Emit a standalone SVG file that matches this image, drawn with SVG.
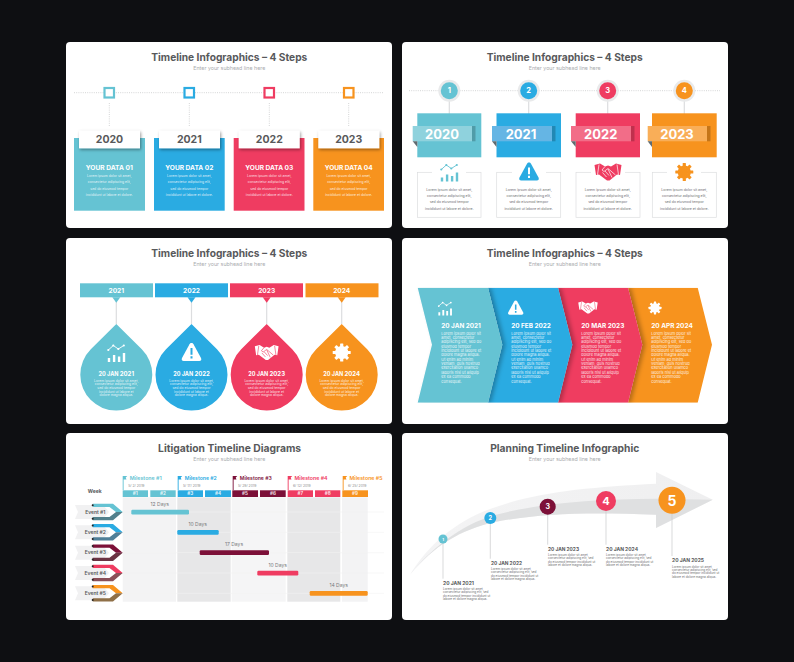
<svg xmlns="http://www.w3.org/2000/svg" width="794" height="662" viewBox="0 0 794 662">
<style>
text{font-family:"Inter","Open Sans","Liberation Sans",sans-serif}
.panel{fill:#fff}
.title{font-size:10.4px;font-weight:700;fill:#58595b;text-anchor:middle}
.sub{font-size:5px;fill:#a9abae;text-anchor:middle}
.c{text-anchor:middle}
.lw{font-size:3.4px;fill:#fff;fill-opacity:.85;text-anchor:middle}
.lg{font-size:3.5px;fill:#6d6e71;text-anchor:middle}
.lc{font-size:3.9px;fill:#fff;fill-opacity:.88}
.ln{font-size:3.1px;fill:#6d6e71}
.yr{font-size:10.5px;font-weight:700;fill:#58595b;text-anchor:middle}
.yw{font-size:13px;font-weight:700;fill:#fff;text-anchor:middle}
.hd{font-size:6.6px;font-weight:700;fill:#fff;text-anchor:middle}
.dt{font-size:6px;font-weight:700;fill:#fff;text-anchor:middle}
.dc{font-size:6px;font-weight:700;fill:#fff}
.dg{font-size:5.2px;font-weight:700;fill:#58595b}
.data{font-size:6.3px;font-weight:700;fill:#fff;text-anchor:middle}
.ms{font-size:5px;font-weight:600}
.md{font-size:3.4px;fill:#8a8c8e}
.wk{font-size:4.6px;font-weight:700;fill:#fff;fill-opacity:.85;text-anchor:middle}
.days{font-size:5px;fill:#77787b;text-anchor:middle}
.ev{font-size:5px;font-weight:600;fill:#58595b;text-anchor:middle}
.dot{stroke:#d4d5d6;stroke-width:1;stroke-dasharray:1 1.2;fill:none}
.stem{stroke:#dcdddf;stroke-width:1.2;fill:none}
.stem6{stroke:#c9cacc;stroke-width:.7;fill:none}
.rule{stroke:#f1f1f2;stroke-width:.6}
.box{fill:none;stroke:#dcdddf;stroke-width:.7}
.t{fill:#65c3d3;color:#65c3d3}.b{fill:#2aabe2;color:#2aabe2}.p{fill:#ef3c61;color:#ef3c61}.o{fill:#f7931e;color:#f7931e}.m{fill:#7c1038;color:#7c1038}
.white{color:#fff}
</style>
<defs>
<filter id="sh" x="-30%" y="-40%" width="160%" height="190%"><feDropShadow dx="1" dy="1.5" stdDeviation="1.6" flood-color="#000" flood-opacity=".4"/></filter>
<filter id="chev" x="-20%" y="-5%" width="140%" height="110%"><feDropShadow dx="3" dy="0" stdDeviation="2.2" flood-color="#000" flood-opacity=".28"/></filter>
<clipPath id="chevClip"><rect x="410" y="287.700" width="310" height="115"/></clipPath>
<linearGradient id="arTop" x1="0" y1="0" x2="1" y2="0"><stop offset="0" stop-color="#f4f4f5"/><stop offset="1" stop-color="#efeff0"/></linearGradient>
<g id="chart">
<path fill="currentColor" stroke="none" d="M-8.500 5.500h2.400v4h-2.400zM-3.400 2.500h2.400v7h-2.400zM1.600 4h2.400v5.500h-2.400zM6.500 .5h2.400v9h-2.400z"/>
<path fill="none" stroke="currentColor" stroke-width=".9" d="M-8 -2.500L-3 -7L2 -3.500L7.500 -7"/>
<circle fill="currentColor" stroke="none" cx="-8" cy="-2.500" r="1.100"/><circle fill="currentColor" stroke="none" cx="-3" cy="-7" r="1.100"/><circle fill="currentColor" stroke="none" cx="2" cy="-3.500" r="1.100"/><circle fill="currentColor" stroke="none" cx="7.500" cy="-7" r="1.100"/>
</g>
<g id="warn">
<path fill="currentColor" stroke-width="0" d="M0 -9.500C1 -9.500 1.500 -9 2 -8.200L9.500 5.500C10.300 7.200 9.500 8.500 7.800 8.500H-7.800C-9.500 8.500 -10.300 7.200 -9.500 5.500L-2 -8.200C-1.500 -9 -1 -9.500 0 -9.500Z"/>
<path fill="none" stroke-width="2" d="M0 -4.500V2.200M0 3.800V6"/>
</g>
<g id="shake">
<path fill="currentColor" stroke-width="0" d="M-13.500 -7L-8 -8.500L-3 -5.500L0 -6.500L3 -5.500L8 -8.500L13.500 -7L12 3L9 2.500L1.500 8.500L-1 8.500L-9 2.500L-12 3Z"/>
<path fill="none" stroke-width=".7" d="M-9 -7.500L-10.500 2.800M9 -7.500L10.500 2.800M-3 -5.500L-6 -2L-4 -.5L0 -3.500L7.500 3M-5.500 .5L-1.500 5M-3 -1L1 3.500M0 -3L4 5.500"/>
</g>
<g id="gear">
<g fill="currentColor" stroke="none">
<rect x="-1.600" y="-9" width="3.200" height="18" rx=".5"/>
<rect x="-1.600" y="-9" width="3.200" height="18" rx=".5" transform="rotate(45)"/>
<rect x="-1.600" y="-9" width="3.200" height="18" rx=".5" transform="rotate(90)"/>
<rect x="-1.600" y="-9" width="3.200" height="18" rx=".5" transform="rotate(135)"/>
</g>
<circle r="5" fill="none" stroke="currentColor" stroke-width="3.200"/>
</g>
<g id="flag"><path d="M0 0h4.600l-1.600 1.600 .8 1.800H.9V14H0Z"/></g>
</defs>
<rect width="794" height="662" fill="#0e0f12"/>

<g id="panel-1">
<rect class="panel" x="66" y="42" width="326" height="186" rx="4"/>
<text class="title" x="229.300" y="61" textLength="156" lengthAdjust="spacingAndGlyphs">Timeline Infographics – 4 Steps</text>
<text class="sub" x="229.300" y="69.500" textLength="72" lengthAdjust="spacingAndGlyphs">Enter your subhead line here</text>
<path class="dot" d="M74 92.700H384M109.300 103V127M189.300 103V127M269.300 103V127M348.700 103V127"/>
<g id="p1-2020">
<rect x="104.500" y="88" width="9.500" height="9.500" fill="#fff" stroke="#65c3d3" stroke-width="2.200"/>
<rect class="t" x="74" y="138" width="71" height="72.700"/>
<rect x="79" y="130.700" width="61" height="17.600" fill="#fff" filter="url(#sh)"/>
<text class="yr" x="109.500" y="143">2020</text>
<text class="data" x="109.300" y="170" textLength="47" lengthAdjust="spacingAndGlyphs">YOUR DATA 01</text>
<text class="lw" x="109.300" y="177">Lorem ipsum dolor sit amet,</text><text class="lw" x="109.300" y="183.300">consectetur adipiscing elit,</text><text class="lw" x="109.300" y="189.500">sed do eiusmod tempor</text><text class="lw" x="109.300" y="196">incididunt ut labore et dolore.</text>
</g>
<g id="p1-2021">
<rect x="184.500" y="88" width="9.500" height="9.500" fill="#fff" stroke="#2aabe2" stroke-width="2.200"/>
<rect class="b" x="154" y="138" width="70.700" height="72.700"/>
<rect x="159" y="130.700" width="61" height="17.600" fill="#fff" filter="url(#sh)"/>
<text class="yr" x="189.300" y="143">2021</text>
<text class="data" x="189.300" y="170" textLength="48" lengthAdjust="spacingAndGlyphs">YOUR DATA 02</text>
<text class="lw" x="189.300" y="177">Lorem ipsum dolor sit amet,</text><text class="lw" x="189.300" y="183.300">consectetur adipiscing elit,</text><text class="lw" x="189.300" y="189.500">sed do eiusmod tempor</text><text class="lw" x="189.300" y="196">incididunt ut labore et dolore.</text>
</g>
<g id="p1-2022">
<rect x="264.500" y="88" width="9.500" height="9.500" fill="#fff" stroke="#ef3c61" stroke-width="2.200"/>
<rect class="p" x="233.700" y="138" width="70.800" height="72.700"/>
<rect x="238.700" y="130.700" width="61" height="17.600" fill="#fff" filter="url(#sh)"/>
<text class="yr" x="269.300" y="143">2022</text>
<text class="data" x="269.300" y="170" textLength="48" lengthAdjust="spacingAndGlyphs">YOUR DATA 03</text>
<text class="lw" x="269.300" y="177">Lorem ipsum dolor sit amet,</text><text class="lw" x="269.300" y="183.300">consectetur adipiscing elit,</text><text class="lw" x="269.300" y="189.500">sed do eiusmod tempor</text><text class="lw" x="269.300" y="196">incididunt ut labore et dolore.</text>
</g>
<g id="p1-2023">
<rect x="344" y="88" width="9.500" height="9.500" fill="#fff" stroke="#f7931e" stroke-width="2.200"/>
<rect class="o" x="313.300" y="138" width="70.700" height="72.700"/>
<rect x="318.300" y="130.700" width="61" height="17.600" fill="#fff" filter="url(#sh)"/>
<text class="yr" x="348.700" y="143">2023</text>
<text class="data" x="348.700" y="170" textLength="48" lengthAdjust="spacingAndGlyphs">YOUR DATA 04</text>
<text class="lw" x="348.700" y="177">Lorem ipsum dolor sit amet,</text><text class="lw" x="348.700" y="183.300">consectetur adipiscing elit,</text><text class="lw" x="348.700" y="189.500">sed do eiusmod tempor</text><text class="lw" x="348.700" y="196">incididunt ut labore et dolore.</text>
</g>
</g>

<g id="panel-2">
<rect class="panel" x="402" y="42" width="326" height="186" rx="4"/>
<text class="title" x="564.700" y="61" textLength="156" lengthAdjust="spacingAndGlyphs">Timeline Infographics – 4 Steps</text>
<text class="sub" x="564.700" y="69.500" textLength="72" lengthAdjust="spacingAndGlyphs">Enter your subhead line here</text>
<path class="dot" d="M409 90.700H720"/>
<path class="stem" d="M449.300 100V114M528.700 100V114M607.700 100V114M684.300 100V114"/>
<g id="p2-2020">
<circle cx="449.300" cy="90.700" r="11" fill="#e9eaeb"/><circle class="t" cx="449.300" cy="90.700" r="8.500"/>
<text class="c" x="449.300" y="93.300" font-size="7.500" font-weight="700" fill="#fff">1</text>
<rect class="t" x="417.300" y="113.300" width="64" height="44"/>
<rect x="472" y="126" width="3.500" height="15.300" fill="#000" opacity=".2"/>
<rect x="412.700" y="126" width="59.300" height="15.300" fill="#8fd2dd"/>
<path d="M412.700 141.300H417.300V147Z" fill="#5f6b70"/>
<text class="yw" x="442" y="138.500">2020</text>
<rect class="box" x="417.500" y="172.300" width="63.500" height="45"/>
<rect x="432" y="168" width="34" height="8" fill="#fff"/>
<use href="#chart" x="449.300" y="172" class="t"/>
<text class="lg" x="449.300" y="190.700">Lorem ipsum dolor sit amet,</text><text class="lg" x="449.300" y="197">consectetur adipiscing elit,</text><text class="lg" x="449.300" y="203.300">sed do eiusmod tempor</text><text class="lg" x="449.300" y="209.700">incididunt ut labore et dolore.</text>
</g>
<g id="p2-2021">
<circle cx="528.700" cy="90.700" r="11" fill="#e9eaeb"/><circle class="b" cx="528.700" cy="90.700" r="8.500"/>
<text class="c" x="528.700" y="93.300" font-size="7.500" font-weight="700" fill="#fff">2</text>
<rect class="b" x="496.500" y="113.300" width="64.500" height="44"/>
<rect x="552" y="126" width="3.500" height="15.300" fill="#000" opacity=".2"/>
<rect x="492" y="126" width="60" height="15.300" fill="#65b5e4"/>
<path d="M492 141.300H496.500V147Z" fill="#5f6b70"/>
<text class="yw" x="521" y="138.500">2021</text>
<rect class="box" x="496.700" y="172.300" width="64" height="45"/>
<rect x="512" y="168" width="34" height="8" fill="#fff"/>
<use href="#warn" x="529" y="172" class="b" stroke="#fff"/>
<text class="lg" x="528.700" y="190.700">Lorem ipsum dolor sit amet,</text><text class="lg" x="528.700" y="197">consectetur adipiscing elit,</text><text class="lg" x="528.700" y="203.300">sed do eiusmod tempor</text><text class="lg" x="528.700" y="209.700">incididunt ut labore et dolore.</text>
</g>
<g id="p2-2022">
<circle cx="607.700" cy="90.700" r="11" fill="#e9eaeb"/><circle class="p" cx="607.700" cy="90.700" r="8.500"/>
<text class="c" x="607.700" y="93.300" font-size="7.500" font-weight="700" fill="#fff">3</text>
<rect class="p" x="575.700" y="113.300" width="64.300" height="44"/>
<rect x="631" y="126" width="3.500" height="15.300" fill="#000" opacity=".2"/>
<rect x="571" y="126" width="60" height="15.300" fill="#f26d88"/>
<path d="M571 141.300H575.700V147Z" fill="#5f6b70"/>
<text class="yw" x="600.700" y="138.500">2022</text>
<rect class="box" x="576" y="172.300" width="64" height="45"/>
<rect x="591" y="168" width="34" height="8" fill="#fff"/>
<use href="#shake" x="608" y="172" class="p" stroke="#fff"/>
<text class="lg" x="607.700" y="190.700">Lorem ipsum dolor sit amet,</text><text class="lg" x="607.700" y="197">consectetur adipiscing elit,</text><text class="lg" x="607.700" y="203.300">sed do eiusmod tempor</text><text class="lg" x="607.700" y="209.700">incididunt ut labore et dolore.</text>
</g>
<g id="p2-2023">
<circle cx="684.300" cy="90.700" r="11" fill="#e9eaeb"/><circle class="o" cx="684.300" cy="90.700" r="8.500"/>
<text class="c" x="684.300" y="93.300" font-size="7.500" font-weight="700" fill="#fff">4</text>
<rect class="o" x="652" y="113.300" width="64.700" height="44"/>
<rect x="707" y="126" width="3.500" height="15.300" fill="#000" opacity=".2"/>
<rect x="647.700" y="126" width="59.300" height="15.300" fill="#f9ae58"/>
<path d="M647.700 141.300H652V147Z" fill="#5f6b70"/>
<text class="yw" x="677" y="138.500">2023</text>
<rect class="box" x="652.300" y="172.300" width="64" height="45"/>
<rect x="667" y="168" width="34" height="8" fill="#fff"/>
<use href="#gear" x="684.300" y="172" class="o"/>
<text class="lg" x="684.300" y="190.700">Lorem ipsum dolor sit amet,</text><text class="lg" x="684.300" y="197">consectetur adipiscing elit,</text><text class="lg" x="684.300" y="203.300">sed do eiusmod tempor</text><text class="lg" x="684.300" y="209.700">incididunt ut labore et dolore.</text>
</g>
</g>

<g id="panel-3">
<rect class="panel" x="66" y="238" width="326" height="186" rx="4"/>
<text class="title" x="229.300" y="257" textLength="156" lengthAdjust="spacingAndGlyphs">Timeline Infographics – 4 Steps</text>
<text class="sub" x="229.300" y="265.500" textLength="72" lengthAdjust="spacingAndGlyphs">Enter your subhead line here</text>
<path class="stem" d="M116.300 300V324M191.500 300V324M266.700 300V324M341.700 300V324"/>
<g id="p3-2021">
<rect class="t" x="80" y="283.300" width="73" height="14"/><path class="t" d="M112.300 297.300H120.300L116.300 302.700Z"/>
<text class="hd" x="116.300" y="292.800">2021</text>
<path class="t" d="M116.300 324L90.800 349.200A36 36 0 1 0 141.800 349.200Z"/>
<use href="#chart" x="116.300" y="352.500" class="white"/>
<text class="dt" x="116.300" y="376"><tspan font-size="5.500">20 JAN </tspan>2021</text>
<text class="lw" x="116.300" y="381.500">Lorem ipsum dolor sit amet,</text><text class="lw" x="116.300" y="385.200">consectetur adipiscing elit,</text><text class="lw" x="116.300" y="388.900">sed do eiusmod tempor</text><text class="lw" x="116.300" y="392.600">incididunt ut labore et</text><text class="lw" x="116.300" y="396.300">dolore magna aliqua.</text>
</g>
<g id="p3-2022">
<rect class="b" x="155" y="283.300" width="73" height="14"/><path class="b" d="M187.500 297.300H195.500L191.500 302.700Z"/>
<text class="hd" x="191.500" y="292.800">2022</text>
<path class="b" d="M191.500 324L166 349.200A36 36 0 1 0 217 349.200Z"/>
<use href="#warn" x="191.500" y="352.500" class="white" stroke="#2aabe2"/>
<text class="dt" x="191.500" y="376"><tspan font-size="5.500">20 JAN </tspan>2022</text>
<text class="lw" x="191.500" y="381.500">Lorem ipsum dolor sit amet,</text><text class="lw" x="191.500" y="385.200">consectetur adipiscing elit,</text><text class="lw" x="191.500" y="388.900">sed do eiusmod tempor</text><text class="lw" x="191.500" y="392.600">incididunt ut labore et</text><text class="lw" x="191.500" y="396.300">dolore magna aliqua.</text>
</g>
<g id="p3-2023">
<rect class="p" x="230" y="283.300" width="73" height="14"/><path class="p" d="M262.700 297.300H270.700L266.700 302.700Z"/>
<text class="hd" x="266.700" y="292.800">2023</text>
<path class="p" d="M266.700 324L241.200 349.200A36 36 0 1 0 292.200 349.200Z"/>
<use href="#shake" transform="translate(266.700 352.500) scale(.88)" class="white" stroke="#ef3c61"/>
<text class="dt" x="266.700" y="376"><tspan font-size="5.500">20 JAN </tspan>2023</text>
<text class="lw" x="266.700" y="381.500">Lorem ipsum dolor sit amet,</text><text class="lw" x="266.700" y="385.200">consectetur adipiscing elit,</text><text class="lw" x="266.700" y="388.900">sed do eiusmod tempor</text><text class="lw" x="266.700" y="392.600">incididunt ut labore et</text><text class="lw" x="266.700" y="396.300">dolore magna aliqua.</text>
</g>
<g id="p3-2024">
<rect class="o" x="305.500" y="283.300" width="73" height="14"/><path class="o" d="M337.700 297.300H345.700L341.700 302.700Z"/>
<text class="hd" x="341.700" y="292.800">2024</text>
<path class="o" d="M341.700 324L316.200 349.200A36 36 0 1 0 367.200 349.200Z"/>
<use href="#gear" x="341.700" y="352.500" class="white"/>
<text class="dt" x="341.700" y="376"><tspan font-size="5.500">20 JAN </tspan>2024</text>
<text class="lw" x="341.700" y="381.500">Lorem ipsum dolor sit amet,</text><text class="lw" x="341.700" y="385.200">consectetur adipiscing elit,</text><text class="lw" x="341.700" y="388.900">sed do eiusmod tempor</text><text class="lw" x="341.700" y="392.600">incididunt ut labore et</text><text class="lw" x="341.700" y="396.300">dolore magna aliqua.</text>
</g>
</g>

<g id="panel-4">
<rect class="panel" x="402" y="238" width="326" height="186" rx="4"/>
<text class="title" x="564.800" y="257" textLength="156" lengthAdjust="spacingAndGlyphs">Timeline Infographics – 4 Steps</text>
<text class="sub" x="564.800" y="265.500" textLength="72" lengthAdjust="spacingAndGlyphs">Enter your subhead line here</text>
<g clip-path="url(#chevClip)">
<path class="o" d="M628 287.700H697.700L712 344.700L697.700 402.700H628L642.300 344.700Z"/>
<path class="p" filter="url(#chev)" d="M558 287.700H628L642.300 344.700L628 402.700H558L572.300 344.700Z"/>
<path class="b" filter="url(#chev)" d="M488 287.700H558L572.300 344.700L558 402.700H488L502.300 344.700Z"/>
<path class="t" filter="url(#chev)" d="M417.700 287.700H488L502.300 344.700L488 402.700H417.700L432 344.700Z"/>
</g>
<g id="p4-jan">
<use href="#chart" transform="translate(445 308) scale(.78)" class="white"/>
<text class="dc" x="441.300" y="327.500" textLength="39.500" lengthAdjust="spacingAndGlyphs">20 JAN 2021</text>
<text class="lc" x="441.300" y="334.500">Lorem ipsum dolor sit</text><text class="lc" x="441.300" y="338.900">amet, consectetur</text><text class="lc" x="441.300" y="343.300">adipiscing elit, sed do</text><text class="lc" x="441.300" y="347.600">eiusmod tempor</text><text class="lc" x="441.300" y="352">incididunt ut labore et</text><text class="lc" x="441.300" y="356.300">dolore magna aliqua.</text><text class="lc" x="441.300" y="360.700">Ut enim ad minim</text><text class="lc" x="441.300" y="365">veniam, quis nostrud</text><text class="lc" x="441.300" y="369.400">exercitation ullamco</text><text class="lc" x="441.300" y="373.700">laboris nisi ut aliquip</text><text class="lc" x="441.300" y="378.100">ex ea commodo</text><text class="lc" x="441.300" y="382.500">consequat.</text>
</g>
<g id="p4-feb">
<use href="#warn" transform="translate(515.700 308) scale(.78)" class="white" stroke="#2aabe2"/>
<text class="dc" x="511.300" y="327.500" textLength="39.500" lengthAdjust="spacingAndGlyphs">20 FEB 2022</text>
<text class="lc" x="511.300" y="334.500">Lorem ipsum dolor sit</text><text class="lc" x="511.300" y="338.900">amet, consectetur</text><text class="lc" x="511.300" y="343.300">adipiscing elit, sed do</text><text class="lc" x="511.300" y="347.600">eiusmod tempor</text><text class="lc" x="511.300" y="352">incididunt ut labore et</text><text class="lc" x="511.300" y="356.300">dolore magna aliqua.</text><text class="lc" x="511.300" y="360.700">Ut enim ad minim</text><text class="lc" x="511.300" y="365">veniam, quis nostrud</text><text class="lc" x="511.300" y="369.400">exercitation ullamco</text><text class="lc" x="511.300" y="373.700">laboris nisi ut aliquip</text><text class="lc" x="511.300" y="378.100">ex ea commodo</text><text class="lc" x="511.300" y="382.500">consequat.</text>
</g>
<g id="p4-mar">
<use href="#shake" transform="translate(588 307.500) scale(.72)" class="white" stroke="#ef3c61"/>
<text class="dc" x="581.300" y="327.500" textLength="43" lengthAdjust="spacingAndGlyphs">20 MAR 2023</text>
<text class="lc" x="581.300" y="334.500">Lorem ipsum dolor sit</text><text class="lc" x="581.300" y="338.900">amet, consectetur</text><text class="lc" x="581.300" y="343.300">adipiscing elit, sed do</text><text class="lc" x="581.300" y="347.600">eiusmod tempor</text><text class="lc" x="581.300" y="352">incididunt ut labore et</text><text class="lc" x="581.300" y="356.300">dolore magna aliqua.</text><text class="lc" x="581.300" y="360.700">Ut enim ad minim</text><text class="lc" x="581.300" y="365">veniam, quis nostrud</text><text class="lc" x="581.300" y="369.400">exercitation ullamco</text><text class="lc" x="581.300" y="373.700">laboris nisi ut aliquip</text><text class="lc" x="581.300" y="378.100">ex ea commodo</text><text class="lc" x="581.300" y="382.500">consequat.</text>
</g>
<g id="p4-apr">
<use href="#gear" transform="translate(655 308) scale(.72)" class="white"/>
<text class="dc" x="651.300" y="327.500" textLength="41.500" lengthAdjust="spacingAndGlyphs">20 APR 2024</text>
<text class="lc" x="651.300" y="334.500">Lorem ipsum dolor sit</text><text class="lc" x="651.300" y="338.900">amet, consectetur</text><text class="lc" x="651.300" y="343.300">adipiscing elit, sed do</text><text class="lc" x="651.300" y="347.600">eiusmod tempor</text><text class="lc" x="651.300" y="352">incididunt ut labore et</text><text class="lc" x="651.300" y="356.300">dolore magna aliqua.</text><text class="lc" x="651.300" y="360.700">Ut enim ad minim</text><text class="lc" x="651.300" y="365">veniam, quis nostrud</text><text class="lc" x="651.300" y="369.400">exercitation ullamco</text><text class="lc" x="651.300" y="373.700">laboris nisi ut aliquip</text><text class="lc" x="651.300" y="378.100">ex ea commodo</text><text class="lc" x="651.300" y="382.500">consequat.</text>
</g>
</g>

<g id="panel-5">
<rect class="panel" x="66" y="433" width="326" height="187" rx="4"/>
<text class="title" x="229.600" y="452" textLength="143" lengthAdjust="spacingAndGlyphs">Litigation Timeline Diagrams</text>
<text class="sub" x="229.300" y="460.500" textLength="72" lengthAdjust="spacingAndGlyphs">Enter your subhead line here</text>
<g id="p5-bands">
<rect x="122.700" y="497.300" width="53.300" height="104.400" fill="#f3f3f4"/>
<rect x="177.300" y="497.300" width="53.400" height="104.400" fill="#e7e7e8"/>
<rect x="231.700" y="497.300" width="54" height="104.400" fill="#f5f5f6"/>
<rect x="287.300" y="497.300" width="53" height="104.400" fill="#e7e7e8"/>
<rect x="342" y="497.300" width="25.700" height="104.400" fill="#f3f3f4"/>
<path class="rule" d="M122 512H384M122 532.300H384M122 552.700H384M122 573H384M122 593.300H384"/>
</g>
<text x="94.700" y="492.500" font-size="5" font-weight="700" fill="#58595b" text-anchor="middle">Week</text>
<g id="p5-m1">
<use href="#flag" x="122.700" y="476" class="t"/>
<text class="ms t" x="129.700" y="480" textLength="32" lengthAdjust="spacingAndGlyphs">Milestone #1</text>
<text class="md" x="128.300" y="487">5/ 2/ 2019</text>
<rect class="t" x="122.700" y="490.300" width="25.300" height="6.700"/><text class="wk" x="135.300" y="495.300">#1</text>
<rect class="t" x="150.300" y="490.300" width="25.400" height="6.700"/><text class="wk" x="163" y="495.300">#2</text>
</g>
<g id="p5-m2">
<use href="#flag" x="177.700" y="476" class="b"/>
<text class="ms b" x="184.700" y="480" textLength="32" lengthAdjust="spacingAndGlyphs">Milestone #2</text>
<text class="md" x="183" y="487">5/ 17/ 2019</text>
<rect class="b" x="177.700" y="490.300" width="25.300" height="6.700"/><text class="wk" x="190.300" y="495.300">#3</text>
<rect class="b" x="205" y="490.300" width="26" height="6.700"/><text class="wk" x="218" y="495.300">#4</text>
</g>
<g id="p5-m3">
<use href="#flag" x="232.700" y="476" class="m"/>
<text class="ms m" x="239.700" y="480" textLength="32" lengthAdjust="spacingAndGlyphs">Milestone #3</text>
<text class="md" x="238" y="487">5/ 29/ 2019</text>
<rect class="m" x="232.300" y="490.300" width="25.700" height="6.700"/><text class="wk" x="245" y="495.300">#5</text>
<rect class="m" x="260" y="490.300" width="25.700" height="6.700"/><text class="wk" x="273" y="495.300">#6</text>
</g>
<g id="p5-m4">
<use href="#flag" x="287.700" y="476" class="p"/>
<text class="ms p" x="294.500" y="480" textLength="33" lengthAdjust="spacingAndGlyphs">Milestone #4</text>
<text class="md" x="293" y="487">6/ 12/ 2019</text>
<rect class="p" x="287.700" y="490.300" width="25.300" height="6.700"/><text class="wk" x="300.300" y="495.300">#7</text>
<rect class="p" x="315" y="490.300" width="25.300" height="6.700"/><text class="wk" x="327.700" y="495.300">#8</text>
</g>
<g id="p5-m5">
<use href="#flag" x="342.700" y="476" class="o"/>
<text class="ms o" x="349.500" y="480" textLength="33" lengthAdjust="spacingAndGlyphs">Milestone #5</text>
<text class="md" x="348" y="487">6/ 25/ 2019</text>
<rect class="o" x="342.300" y="490.300" width="25.700" height="6.700"/><text class="wk" x="355" y="495.300">#9</text>
</g>
<g id="p5-e1">
<path d="M75 505H103L109 512L103 519H75L78 512Z" fill="#f1f1f2"/>
<path class="t" d="M92.700 503.700H113L122.700 512H116L109.500 507H92.700Z"/>
<path d="M92.700 520.300H113L122.700 512H116L109.500 517H92.700Z" fill="#52808c"/>
<circle cx="92.700" cy="505.200" r="1" fill="#222"/><circle cx="92.700" cy="518.800" r="1" fill="#222"/>
<text class="ev" x="95.300" y="513.700">Event #1</text>
<rect class="t" x="131.300" y="509.700" width="57.700" height="4.700" rx="1.200"/>
<text class="days" x="159.700" y="505.800">12 Days</text>
</g>
<g id="p5-e2">
<path d="M75 525.300H103L109 532.300L103 539.300H75L78 532.300Z" fill="#f1f1f2"/>
<path class="b" d="M92.700 524H113L122.700 532.300H116L109.500 527.300H92.700Z"/>
<path d="M92.700 540.600H113L122.700 532.300H116L109.500 537.300H92.700Z" fill="#4f7f98"/>
<circle cx="92.700" cy="525.500" r="1" fill="#222"/><circle cx="92.700" cy="539.100" r="1" fill="#222"/>
<text class="ev" x="95.300" y="534">Event #2</text>
<rect class="b" x="177.300" y="530" width="41.400" height="4.700" rx="1.200"/>
<text class="days" x="197.700" y="526">10 Days</text>
</g>
<g id="p5-e3">
<path d="M75 545.700H103L109 552.700L103 559.700H75L78 552.700Z" fill="#f1f1f2"/>
<path class="m" d="M92.700 544.400H113L122.700 552.700H116L109.500 547.700H92.700Z"/>
<path d="M92.700 561H113L122.700 552.700H116L109.500 557.700H92.700Z" fill="#6b3343"/>
<circle cx="92.700" cy="545.900" r="1" fill="#222"/><circle cx="92.700" cy="559.500" r="1" fill="#222"/>
<text class="ev" x="95.300" y="554.400">Event #3</text>
<rect class="m" x="199.700" y="550.300" width="69.300" height="4.700" rx="1.200"/>
<text class="days" x="234" y="546.300">17 Days</text>
</g>
<g id="p5-e4">
<path d="M75 566H103L109 573L103 580H75L78 573Z" fill="#f1f1f2"/>
<path class="p" d="M92.700 564.700H113L122.700 573H116L109.500 568H92.700Z"/>
<path d="M92.700 581.300H113L122.700 573H116L109.500 578H92.700Z" fill="#8a4f58"/>
<circle cx="92.700" cy="566.200" r="1" fill="#222"/><circle cx="92.700" cy="579.800" r="1" fill="#222"/>
<text class="ev" x="95.300" y="574.700">Event #4</text>
<rect class="p" x="257.300" y="570.700" width="41" height="4.700" rx="1.200"/>
<text class="days" x="277.700" y="566.800">10 Days</text>
</g>
<g id="p5-e5">
<path d="M75 586.300H103L109 593.300L103 600.300H75L78 593.300Z" fill="#f1f1f2"/>
<path class="o" d="M92.700 585H113L122.700 593.300H116L109.500 588.300H92.700Z"/>
<path d="M92.700 601.600H113L122.700 593.300H116L109.500 598.300H92.700Z" fill="#8f7048"/>
<circle cx="92.700" cy="586.500" r="1" fill="#222"/><circle cx="92.700" cy="600.100" r="1" fill="#222"/>
<text class="ev" x="95.300" y="595">Event #5</text>
<rect class="o" x="309.700" y="591" width="58" height="4.700" rx="1.200"/>
<text class="days" x="338.700" y="587.300">14 Days</text>
</g>
</g>

<g id="panel-6">
<rect class="panel" x="402" y="433" width="326" height="187" rx="4"/>
<text class="title" x="564.700" y="452" textLength="149" lengthAdjust="spacingAndGlyphs">Planning Timeline Infographic</text>
<text class="sub" x="564.700" y="460.500" textLength="72" lengthAdjust="spacingAndGlyphs">Enter your subhead line here</text>
<path fill="url(#arTop)" d="M410 574.700C428 545 455 522 490 509C535 492 590 487 656 483.700V472L712.700 499.700L656 528V514.700C590 512 540 513 495 522C460 530 435 545 410 574.700Z"/>
<path fill="#dfe0e1" d="M410 574.700C430 550 460 525 495 515C545 502 600 499 656 498.700L712.700 499.700L656 528V514.700C590 512 540 513 495 522C460 530 435 545 410 574.700Z"/>
<path class="stem6" d="M443 543V578.700M490.300 524V558.700M547.700 514V544.700M606 511V544.700M672 513V556"/>
<g id="p6-1">
<circle class="t" cx="443" cy="539" r="4.500"/><text class="c" x="443" y="540.500" font-size="4" font-weight="700" fill="#fff">1</text>
<text class="dg" x="443" y="584.500" textLength="31" lengthAdjust="spacingAndGlyphs">20 JAN 2021</text>
<text class="ln" x="443" y="590">Lorem ipsum dolor sit amet,</text><text class="ln" x="443" y="593.400">consectetur adipiscing elit, sed</text><text class="ln" x="443" y="596.800">do eiusmod tempor incididunt ut</text><text class="ln" x="443" y="600.200">labore et dolore magna aliqua.</text>
</g>
<g id="p6-2">
<circle class="b" cx="490.300" cy="518" r="6"/><text class="c" x="490.300" y="520" font-size="5.500" font-weight="700" fill="#fff">2</text>
<text class="dg" x="491" y="564.500" textLength="31" lengthAdjust="spacingAndGlyphs">20 JAN 2022</text>
<text class="ln" x="491" y="570">Lorem ipsum dolor sit amet,</text><text class="ln" x="491" y="573.400">consectetur adipiscing elit, sed</text><text class="ln" x="491" y="576.800">do eiusmod tempor incididunt ut</text><text class="ln" x="491" y="580.200">labore et dolore magna aliqua.</text>
</g>
<g id="p6-3">
<circle class="m" cx="547.700" cy="506.700" r="8"/><text class="c" x="547.700" y="509.300" font-size="7" font-weight="700" fill="#fff">3</text>
<text class="dg" x="548" y="550.500" textLength="31" lengthAdjust="spacingAndGlyphs">20 JAN 2023</text>
<text class="ln" x="548" y="556">Lorem ipsum dolor sit amet,</text><text class="ln" x="548" y="559.400">consectetur adipiscing elit, sed</text><text class="ln" x="548" y="562.800">do eiusmod tempor incididunt ut</text><text class="ln" x="548" y="566.200">labore et dolore magna aliqua.</text>
</g>
<g id="p6-4">
<circle class="p" cx="606" cy="501" r="10"/><text class="c" x="606" y="505" font-size="11" font-weight="700" fill="#fff">4</text>
<text class="dg" x="606" y="550.500" textLength="32" lengthAdjust="spacingAndGlyphs">20 JAN 2024</text>
<text class="ln" x="606" y="556">Lorem ipsum dolor sit amet,</text><text class="ln" x="606" y="559.400">consectetur adipiscing elit, sed</text><text class="ln" x="606" y="562.800">do eiusmod tempor incididunt ut</text><text class="ln" x="606" y="566.200">labore et dolore magna aliqua.</text>
</g>
<g id="p6-5">
<circle class="o" cx="672" cy="500.300" r="13.500"/><text class="c" x="672" y="505.500" font-size="14" font-weight="700" fill="#fff">5</text>
<text class="dg" x="672" y="562" textLength="32" lengthAdjust="spacingAndGlyphs">20 JAN 2025</text>
<text class="ln" x="672" y="567.500">Lorem ipsum dolor sit amet,</text><text class="ln" x="672" y="570.900">consectetur adipiscing elit, sed</text><text class="ln" x="672" y="574.300">do eiusmod tempor incididunt ut</text><text class="ln" x="672" y="577.700">labore et dolore magna aliqua.</text>
</g>
</g>
</svg>
